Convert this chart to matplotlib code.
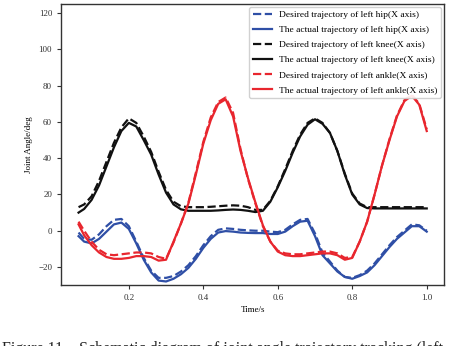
import matplotlib
matplotlib.use("Agg")
import matplotlib.pyplot as plt

plt.rcParams['font.family'] = ['Liberation Serif', 'DejaVu Serif']

# sample times (s)
time = [0.065, 0.08, 0.10, 0.12, 0.14, 0.16, 0.18, 0.20, 0.22, 0.24,
        0.26, 0.28, 0.30, 0.32, 0.34, 0.36, 0.38, 0.40, 0.42, 0.44,
        0.46, 0.48, 0.50, 0.52, 0.54, 0.56, 0.58, 0.60, 0.62, 0.64,
        0.66, 0.68, 0.70, 0.72, 0.74, 0.76, 0.78, 0.80, 0.82, 0.84,
        0.86, 0.88, 0.90, 0.92, 0.94, 0.96, 0.98, 1.00]

# joint angles (deg)
hip_desired = [-1, -4.5, -5, -2, 2.5, 6, 6.5, 2.5, -6, -15,
               -22, -26, -26, -25, -22.5, -19, -14, -8, -3, 0.5,
               1.3, 1, 0.5, 0.2, 0, 0, -0.5, -0.8, 0.5, 3.5,
               6, 6.5, -1.5, -12, -17, -22, -25.5, -26, -24.5, -22,
               -18, -13, -8, -3.5, 0, 3.5, 3, 0]
hip_actual = [-3, -6, -7, -4.5, -0.5, 3.5, 4.5, 1, -7, -16,
              -23, -27.5, -28, -26.5, -24, -20.5, -15.5, -9.5, -4.5, -1,
              -0.2, -0.5, -1, -1.2, -1.3, -1.3, -1.8, -1.8, -0.5, 2.5,
              5, 5.5, -3, -13.5, -18, -22.5, -25.5, -26.5, -25, -23,
              -19, -14, -9, -4.5, -1, 2.5, 2.5, -0.5]
knee_desired = [13, 14.5, 19, 27.5, 38, 48.5, 57, 62, 59.5, 52,
                43.5, 32.5, 22.5, 16, 13.5, 13, 13, 13, 13.2, 13.5,
                13.8, 14, 13.8, 13, 11.5, 11.5, 16.5, 24.5, 34, 44,
                53, 59.5, 62, 59.5, 54, 44, 31.5, 20.5, 15, 13,
                13, 13, 13, 13, 13, 13, 13, 13]
knee_actual = [10, 12, 17, 25, 35.5, 46, 55, 59.5, 57.5, 50,
               42, 31, 21, 14.5, 11.8, 11, 11, 11, 11, 11.2,
               11.5, 11.7, 11.5, 11, 10.3, 11, 16, 24, 33, 43,
               52, 58.5, 61.5, 59, 54, 44, 31, 20, 14.5, 12.5,
               12.3, 12.3, 12.3, 12.3, 12.3, 12.3, 12.3, 12.3]
ankle_desired = [5, 0, -6, -10.5, -13, -13.5, -13, -12.5, -12, -12,
                 -12.5, -14.5, -15.5, -6.5, 4, 15.5, 32, 49, 62.5, 71,
                 73.5, 65, 45, 28.5, 15, 2.5, -6, -11, -12.5, -13,
                 -13, -12.5, -12, -11.5, -11.5, -12.5, -15, -14.5, -6, 5,
                 20, 36, 50.5, 63.5, 72, 75, 70, 56]
ankle_actual = [3.5, -2.5, -8, -12, -14.5, -15.5, -15.5, -15, -14, -14,
                -14.5, -16.5, -16, -6, 4, 15, 31, 48, 61, 70,
                72.5, 63, 44, 29, 15.5, 3, -6, -11.5, -13.5, -14,
                -14, -13.5, -13, -12.5, -12.5, -13.5, -16, -15, -6, 5,
                20, 36, 50, 63, 71.5, 74.5, 69.5, 55]

blue = '#2f4fa6'
red = '#e8262e'
black = '#111111'

fig = plt.figure(figsize=(4.74, 3.46), dpi=100)
ax = fig.add_axes([0.129, 0.176, 0.808, 0.812])

lw = 1.6
ax.plot(time, hip_desired, '--', color=blue, lw=lw, label='Desired trajectory of left hip(X axis)')
ax.plot(time, hip_actual, '-', color=blue, lw=lw, label='The actual trajectory of left hip(X axis)')
ax.plot(time, knee_desired, '--', color=black, lw=lw, label='Desired trajectory of left knee(X axis)')
ax.plot(time, knee_actual, '-', color=black, lw=lw, label='The actual trajectory of left knee(X axis)')
ax.plot(time, ankle_desired, '--', color=red, lw=lw, label='Desired trajectory of left ankle(X axis)')
ax.plot(time, ankle_actual, '-', color=red, lw=lw, label='The actual trajectory of left ankle(X axis)')

ax.set_ylim(-30, 125)
ax.set_xticks([0.2, 0.4, 0.6, 0.8, 1.0])
ax.set_yticks([-20, 0, 20, 40, 60, 80, 100, 120])
ax.tick_params(labelsize=6.5, length=3, width=0.8, colors='#333333')
for s in ax.spines.values():
    s.set_linewidth(1.0)
    s.set_color('#333333')

ax.set_xlabel('Time/s', fontsize=6.5, labelpad=3)
ax.set_ylabel('Joint Angle/deg', fontsize=6.5, labelpad=4)

ax.legend(loc='upper right', fontsize=6.8, handlelength=2.0, labelspacing=0.68,
          borderaxespad=0.3, framealpha=0.9, edgecolor='#cccccc', fancybox=True)

# caption line, only its top shows at the bottom edge
fig.text(0.005, 0.014, 'Figure 11    Schematic diagram of joint angle trajectory tracking (left',
         fontsize=11.5, va='top', ha='left', color='#222222')

fig.savefig('out.png', dpi=100)
